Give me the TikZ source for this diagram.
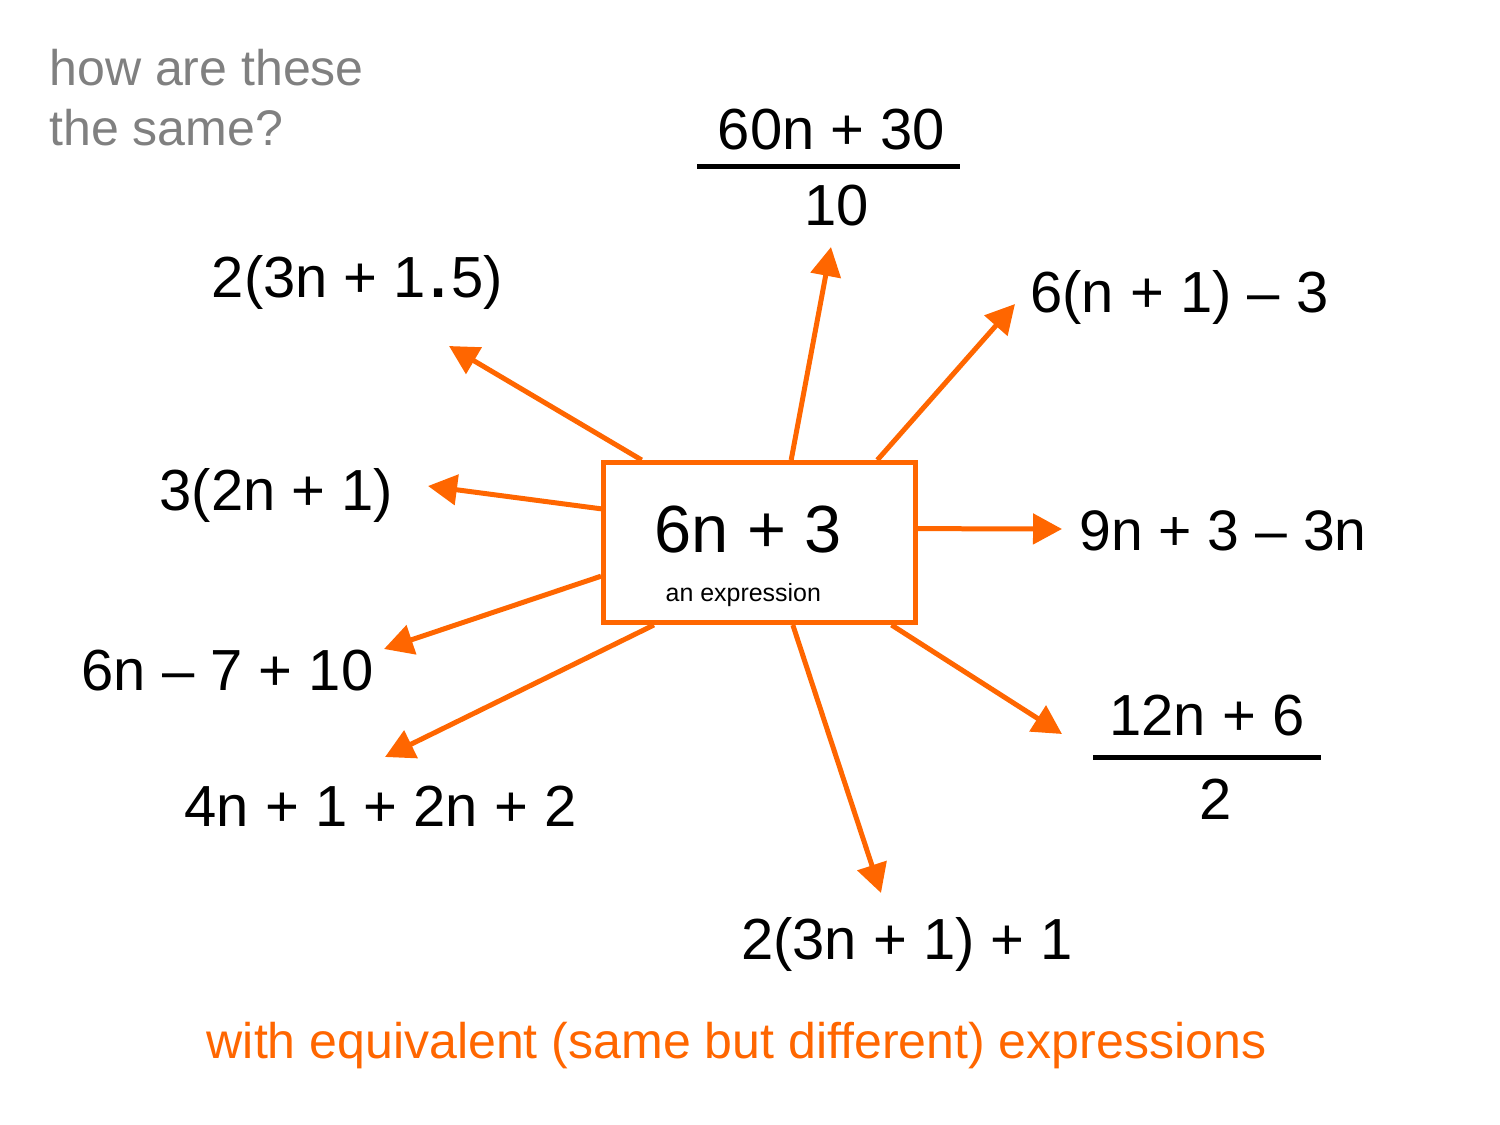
\documentclass[tikz,border=0pt]{standalone}
\usepackage{fontspec}
\setmainfont{Liberation Sans}
\usetikzlibrary{arrows.meta}
\definecolor{exorange}{RGB}{255,102,0}
\definecolor{exgrey}{RGB}{128,128,128}

\begin{document}
\begin{tikzpicture}[x=0.02cm, y=-0.02cm, every node/.style={inner sep=0pt}]
	\tikzstyle{expr}=[anchor=base, font=\fontsize{33}{40}\selectfont]
	\tikzstyle{arr}=[draw=exorange, line width=0.1cm, -{Triangle[length=0.58cm, width=0.6cm]}]
	\tikzstyle{bar}=[line width=0.1cm]
	\useasboundingbox (0,0) rectangle (1500,1125);
	\node[anchor=north west, align=left, text=exgrey, font=\fontsize{28.5}{34}\selectfont] (q) at (49,49) {how are these\\the same?};
	\node[draw=exorange, line width=0.1cm, minimum width=6.24cm, minimum height=3.2cm] (e0) at (759.5,542.5) {};
	\node[anchor=base, font=\fontsize{38}{46}\selectfont] (e0a) at (748.3,552) {6n + 3};
	\node[anchor=base, font=\fontsize{14.2}{17}\selectfont] (e0b) at (743.3,601) {an expression};
	\node[expr] (e1) at (357.5,297) {2(3n + 1\kern0.08em{\bfseries.}\kern0.08em5)};
	\node[expr] (e2a) at (831.5,150) {60n + 30};
	\node[expr] (e2b) at (836.5,225) {10};
	\node[expr] (e3) at (1179.5,312) {6(n + 1) – 3};
	\node[expr] (e4) at (276.5,510) {3(2n + 1)};
	\node[expr, font=\fontsize{32.5}{39}\selectfont] (e5) at (1223,550) {9n + 3 – 3n};
	\node[expr] (e6) at (227.5,690) {6n – 7 + 10};
	\node[expr] (e7) at (380.6,826) {4n + 1 + 2n + 2};
	\node[expr] (e8) at (907,959) {2(3n + 1) + 1};
	\node[expr] (e9a) at (1207,735) {12n + 6};
	\node[expr] (e9b) at (1216,819) {2};
	\node[anchor=base, text=exorange, font=\fontsize{28.5}{34}\selectfont] (bot) at (736.5,1058) {with equivalent (same but different) expressions};
	\coordinate (r2a) at (697,167);
	\coordinate (r2b) at (960,167);
	\coordinate (r9a) at (1093,757);
	\coordinate (r9b) at (1321,757);
	\draw[bar] (r2a) -- (r2b);
	\draw[bar] (r9a) -- (r9b);
	\coordinate (t1) at (449,346);
	\coordinate (t2) at (831,247);
	\coordinate (t3) at (1015,304);
	\coordinate (t4) at (428,486);
	\coordinate (t5) at (1062,529);
	\coordinate (t6) at (384,649);
	\coordinate (t7) at (385,757);
	\coordinate (t8) at (881,893);
	\coordinate (t9) at (1062,734);
	\draw[arr] (e0.145) -- (t1);
	\draw[arr] (e0.69) -- (t2);
	\draw[arr] (e0.35) -- (t3);
	\draw[arr] (e0.168) -- (t4);
	\draw[arr] (e0.5) -- (t5);
	\draw[arr] (e0.192) -- (t6);
	\draw[arr] (e0.218) -- (t7);
	\draw[arr] (e0.292) -- (t8);
	\draw[arr] (e0.328) -- (t9);
\end{tikzpicture}
\end{document}
